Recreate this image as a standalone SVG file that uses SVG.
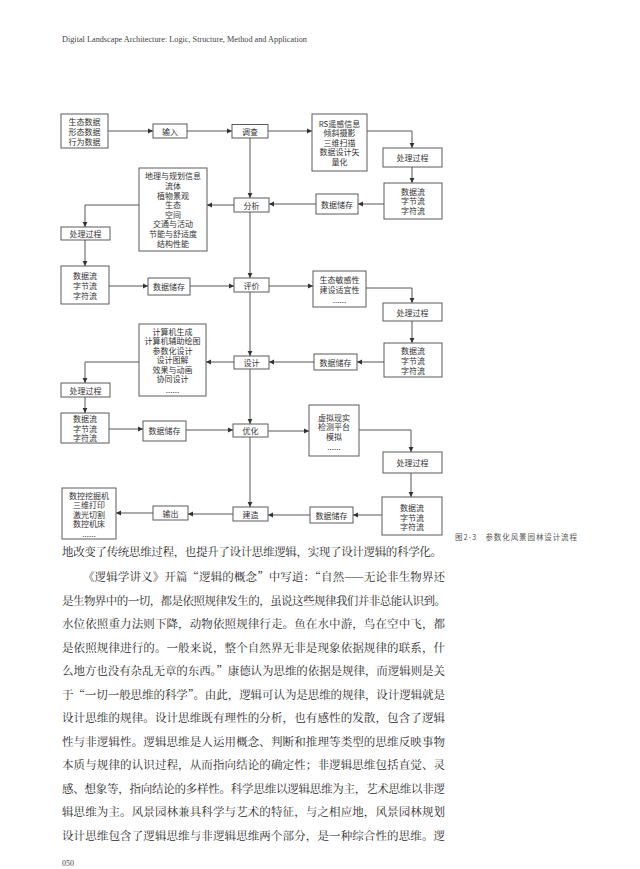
<svg xmlns="http://www.w3.org/2000/svg" width="640" height="869" viewBox="0 0 640 869">
<style>
.bx{fill:#fff;stroke:#5a5a5a;stroke-width:1}
.t{font-family:"Noto Sans CJK SC","Noto Sans",sans-serif;font-size:8px;fill:#333;text-anchor:middle;dominant-baseline:central}
.c{fill:none;stroke:#444;stroke-width:0.9}
.body{font-family:"Noto Serif CJK SC","Noto Sans CJK SC",serif;font-size:11.5px;fill:#2a2a2a}
.hdr{font-family:"Liberation Serif",serif;font-size:8.5px;fill:#444}
.cap{font-family:"Noto Sans CJK SC",sans-serif;font-size:7.5px;fill:#555}
</style>
<defs>
<marker id="ah" markerWidth="6" markerHeight="6" refX="5" refY="3" orient="auto" markerUnits="userSpaceOnUse"><path d="M0,0.6 L5,3 L0,5.4 z" fill="#333"/></marker>
</defs>
<rect width="640" height="869" fill="#fff"/>
<text class="hdr" x="62" y="42" textLength="245" lengthAdjust="spacingAndGlyphs">Digital Landscape Architecture: Logic, Structure, Method and Application</text>

<g id="connectors" class="c" marker-end="url(#ah)">
<path class="c" d="M108,131 H153" marker-end="url(#ah)"/>
<path class="c" d="M187,131 H232" marker-end="url(#ah)"/>
<path class="c" d="M268,131 H312" marker-end="url(#ah)"/>
<path class="c" d="M367,131 H412 V148" marker-end="url(#ah)"/>
<path class="c" d="M412,167 V183" marker-end="url(#ah)"/>
<path class="c" d="M384,204 H358" marker-end="url(#ah)"/>
<path class="c" d="M316,204 H269" marker-end="url(#ah)"/>
<path class="c" d="M250,138 V198" marker-end="url(#ah)"/>
<path class="c" d="M234,205 H207" marker-end="url(#ah)"/>
<path class="c" d="M139,205 H85 V227" marker-end="url(#ah)"/>
<path class="c" d="M85,240 V266" marker-end="url(#ah)"/>
<path class="c" d="M109,286 H148" marker-end="url(#ah)"/>
<path class="c" d="M190,286 H234" marker-end="url(#ah)"/>
<path class="c" d="M250,212 V278" marker-end="url(#ah)"/>
<path class="c" d="M269,286 H313" marker-end="url(#ah)"/>
<path class="c" d="M366,288 H412 V303" marker-end="url(#ah)"/>
<path class="c" d="M412,321 V343" marker-end="url(#ah)"/>
<path class="c" d="M384,362 H357" marker-end="url(#ah)"/>
<path class="c" d="M314,362 H269" marker-end="url(#ah)"/>
<path class="c" d="M250,292 V356" marker-end="url(#ah)"/>
<path class="c" d="M234,362 H206" marker-end="url(#ah)"/>
<path class="c" d="M139,362 H85 V383" marker-end="url(#ah)"/>
<path class="c" d="M85,397 V413" marker-end="url(#ah)"/>
<path class="c" d="M109,429 H143" marker-end="url(#ah)"/>
<path class="c" d="M186,430 H233" marker-end="url(#ah)"/>
<path class="c" d="M250,369 V424" marker-end="url(#ah)"/>
<path class="c" d="M268,431 H309" marker-end="url(#ah)"/>
<path class="c" d="M359,430 H411 V452" marker-end="url(#ah)"/>
<path class="c" d="M411,473 V497" marker-end="url(#ah)"/>
<path class="c" d="M382,515 H353" marker-end="url(#ah)"/>
<path class="c" d="M310,515 H268" marker-end="url(#ah)"/>
<path class="c" d="M250,437 V507" marker-end="url(#ah)"/>
<path class="c" d="M233,514 H188" marker-end="url(#ah)"/>
<path class="c" d="M153,513 H116" marker-end="url(#ah)"/>
</g>

<g id="n-data-in"><rect class="bx" x="61" y="114" width="47" height="34"/>
<text class="t" x="84.5" y="121.5">生态数据</text><text class="t" x="84.5" y="131.5">形态数据</text><text class="t" x="84.5" y="141.5">行为数据</text></g>
<g id="n-input"><rect class="bx" x="153" y="124" width="34" height="14"/><text class="t" x="170" y="131">输入</text></g>
<g id="n-survey"><rect class="bx" x="232" y="124.5" width="36" height="13.5"/><text class="t" x="250" y="131">调查</text></g>
<g id="n-rs"><rect class="bx" x="312" y="114" width="55" height="57"/>
<text class="t" x="339.5" y="123">RS遥感信息</text><text class="t" x="339.5" y="132.5">倾斜摄影</text><text class="t" x="339.5" y="142">三维扫描</text><text class="t" x="339.5" y="151.5">数据设计矢</text><text class="t" x="339.5" y="161">量化</text></g>
<g id="n-proc-r1"><rect class="bx" x="383" y="148" width="59" height="19"/><text class="t" x="412.5" y="157.5">处理过程</text></g>
<g id="n-flow-r1"><rect class="bx" x="384" y="183" width="58" height="36"/>
<text class="t" x="413" y="191">数据流</text><text class="t" x="413" y="200.5">字节流</text><text class="t" x="413" y="210">字符流</text></g>
<g id="n-store-r1"><rect class="bx" x="316" y="194" width="42" height="20"/><text class="t" x="337" y="204">数据储存</text></g>
<g id="n-analysis"><rect class="bx" x="234" y="198" width="35" height="14"/><text class="t" x="251.5" y="205">分析</text></g>
<g id="n-analysis-items"><rect class="bx" x="139" y="168" width="68" height="83"/>
<text class="t" x="173" y="175">地理与规划信息</text><text class="t" x="173" y="185">流体</text><text class="t" x="173" y="195">植物景观</text><text class="t" x="173" y="204.5">生态</text><text class="t" x="173" y="214">空间</text><text class="t" x="173" y="223.5">交通与活动</text><text class="t" x="173" y="233">节能与舒适度</text><text class="t" x="173" y="243">结构性能</text></g>
<g id="n-proc-l1"><rect class="bx" x="61" y="227" width="49" height="13"/><text class="t" x="85.5" y="233.5">处理过程</text></g>
<g id="n-flow-l1"><rect class="bx" x="61" y="266" width="48" height="38"/>
<text class="t" x="85" y="275">数据流</text><text class="t" x="85" y="285">字节流</text><text class="t" x="85" y="295">字符流</text></g>
<g id="n-store-l1"><rect class="bx" x="148" y="278" width="42" height="17"/><text class="t" x="169" y="286.5">数据储存</text></g>
<g id="n-evaluate"><rect class="bx" x="234" y="278" width="35" height="14"/><text class="t" x="251.5" y="285">评价</text></g>
<g id="n-eval-items"><rect class="bx" x="313" y="271" width="53" height="36"/>
<text class="t" x="339.5" y="279.5">生态敏感性</text><text class="t" x="339.5" y="289">建设适宜性</text><text class="t" x="339.5" y="299">......</text></g>
<g id="n-proc-r2"><rect class="bx" x="383" y="303" width="59" height="18"/><text class="t" x="412.5" y="312">处理过程</text></g>
<g id="n-flow-r2"><rect class="bx" x="384" y="343" width="58" height="34"/>
<text class="t" x="413" y="350.5">数据流</text><text class="t" x="413" y="360">字节流</text><text class="t" x="413" y="370">字符流</text></g>
<g id="n-store-r2"><rect class="bx" x="314" y="354" width="43" height="16"/><text class="t" x="335.5" y="362">数据储存</text></g>
<g id="n-design"><rect class="bx" x="234" y="356" width="35" height="13"/><text class="t" x="251.5" y="362.5">设计</text></g>
<g id="n-design-items"><rect class="bx" x="139" y="324" width="67" height="72"/>
<text class="t" x="172.5" y="331">计算机生成</text><text class="t" x="172.5" y="340.5">计算机辅助绘图</text><text class="t" x="172.5" y="350">参数化设计</text><text class="t" x="172.5" y="359.5">设计图解</text><text class="t" x="172.5" y="369">效果与动画</text><text class="t" x="172.5" y="378.5">协同设计</text><text class="t" x="172.5" y="389">......</text></g>
<g id="n-proc-l2"><rect class="bx" x="61" y="383" width="49" height="14"/><text class="t" x="85.5" y="390">处理过程</text></g>
<g id="n-flow-l2"><rect class="bx" x="61" y="413" width="48" height="30"/>
<text class="t" x="85" y="418.5">数据流</text><text class="t" x="85" y="428">字节流</text><text class="t" x="85" y="437.5">字符流</text></g>
<g id="n-store-l2"><rect class="bx" x="143" y="421" width="43" height="20"/><text class="t" x="164.5" y="430">数据储存</text></g>
<g id="n-optimize"><rect class="bx" x="233" y="424" width="35" height="13"/><text class="t" x="250.5" y="430.5">优化</text></g>
<g id="n-opt-items"><rect class="bx" x="309" y="405" width="50" height="51"/>
<text class="t" x="334" y="417">虚拟现实</text><text class="t" x="334" y="426.5">检测平台</text><text class="t" x="334" y="436">模拟</text><text class="t" x="334" y="446">......</text></g>
<g id="n-proc-r3"><rect class="bx" x="383" y="452" width="59" height="21"/><text class="t" x="412.5" y="462.5">处理过程</text></g>
<g id="n-flow-r3"><rect class="bx" x="382" y="497" width="60" height="38"/>
<text class="t" x="412" y="507.5">数据流</text><text class="t" x="412" y="517">字节流</text><text class="t" x="412" y="526.5">字符流</text></g>
<g id="n-store-r3"><rect class="bx" x="310" y="507" width="43" height="16"/><text class="t" x="331.5" y="515">数据储存</text></g>
<g id="n-build"><rect class="bx" x="233" y="507" width="35" height="14"/><text class="t" x="250.5" y="514">建造</text></g>
<g id="n-output"><rect class="bx" x="153" y="506" width="35" height="14"/><text class="t" x="170.5" y="513">输出</text></g>
<g id="n-out-items"><rect class="bx" x="62" y="488" width="54" height="51"/>
<text class="t" x="89" y="495">数控挖掘机</text><text class="t" x="89" y="504.5">三维打印</text><text class="t" x="89" y="514">激光切割</text><text class="t" x="89" y="523.5">数控机床</text><text class="t" x="89" y="533">......</text></g>

<text class="cap" x="455" y="540" textLength="122" lengthAdjust="spacing">图2-3　参数化风景园林设计流程</text>

<g id="body-text" class="body">
<text x="62" y="556" textLength="380" lengthAdjust="spacing">地改变了传统思维过程，也提升了设计思维逻辑，实现了设计逻辑的科学化。</text>
<text x="83" y="581" textLength="362" lengthAdjust="spacing">《逻辑学讲义》开篇“逻辑的概念”中写道：“自然——无论非生物界还</text>
<text x="62" y="604.5" textLength="384" lengthAdjust="spacing">是生物界中的一切，都是依照规律发生的，虽说这些规律我们并非总能认识到。</text>
<text x="62" y="628" textLength="383" lengthAdjust="spacing">水位依照重力法则下降，动物依照规律行走。鱼在水中游，鸟在空中飞，都</text>
<text x="62" y="651.5" textLength="383" lengthAdjust="spacing">是依照规律进行的。一般来说，整个自然界无非是现象依据规律的联系，什</text>
<text x="62" y="675" textLength="383" lengthAdjust="spacing">么地方也没有杂乱无章的东西。”康德认为思维的依据是规律，而逻辑则是关</text>
<text x="62" y="698.5" textLength="383" lengthAdjust="spacing">于“一切一般思维的科学”。由此，逻辑可认为是思维的规律，设计逻辑就是</text>
<text x="62" y="722" textLength="383" lengthAdjust="spacing">设计思维的规律。设计思维既有理性的分析，也有感性的发散，包含了逻辑</text>
<text x="62" y="745.5" textLength="383" lengthAdjust="spacing">性与非逻辑性。逻辑思维是人运用概念、判断和推理等类型的思维反映事物</text>
<text x="62" y="769" textLength="383" lengthAdjust="spacing">本质与规律的认识过程，从而指向结论的确定性；非逻辑思维包括直觉、灵</text>
<text x="62" y="792.5" textLength="383" lengthAdjust="spacing">感、想象等，指向结论的多样性。科学思维以逻辑思维为主，艺术思维以非逻</text>
<text x="62" y="816" textLength="383" lengthAdjust="spacing">辑思维为主。风景园林兼具科学与艺术的特征，与之相应地，风景园林规划</text>
<text x="62" y="839.5" textLength="383" lengthAdjust="spacing">设计思维包含了逻辑思维与非逻辑思维两个部分，是一种综合性的思维。逻</text>
</g>
<text class="hdr" x="62" y="866" style="font-size:8px">050</text>
</svg>
